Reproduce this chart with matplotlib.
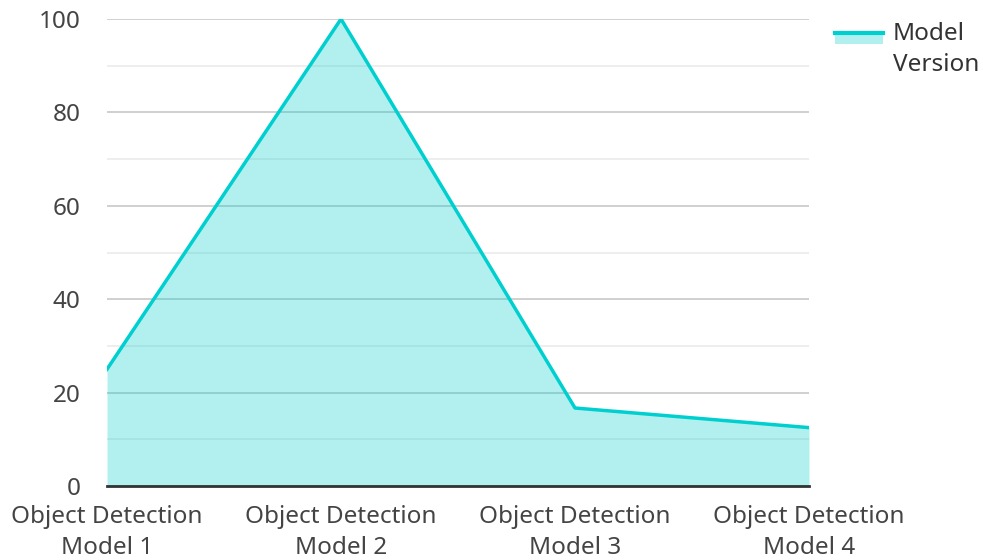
import numpy as np
import matplotlib
matplotlib.use("Agg")
import matplotlib.pyplot as plt
from matplotlib.lines import Line2D
from matplotlib.patches import Rectangle

plt.rcParams["font.family"] = ["Noto Sans", "DejaVu Sans"]

# Data
categories = ["Object Detection\nModel 1", "Object Detection\nModel 2",
              "Object Detection\nModel 3", "Object Detection\nModel 4"]
values = [25, 100, 16.7, 12.5]
series_name = "Model\nVersion"

line_color = "#00cfcf"
fs = 17.5

W, H = 983, 560
fig = plt.figure(figsize=(W / 100, H / 100), dpi=100)
ax = fig.add_axes((107 / W, 74 / H, 702 / W, 467 / H))

x = np.arange(len(categories))
ax.fill_between(x, values, 0, color=line_color, alpha=0.3, linewidth=0, zorder=2)
ax.plot(x, values, color=line_color, linewidth=2.5, zorder=3)

ax.set_xlim(0, len(categories) - 1)
ax.set_ylim(0, 100)
ax.set_yticks(np.arange(0, 101, 20))
ax.set_yticks(np.arange(10, 100, 20), minor=True)
ax.set_xticks(x)
ax.set_xticklabels(categories, linespacing=1.38)
ax.grid(axis="y", which="major", color="#c8c8c8", linewidth=1.2, zorder=1)
ax.grid(axis="y", which="minor", color="#ebebeb", linewidth=1.2, zorder=1)
ax.set_axisbelow(True)

for s in ["left", "right", "top"]:
    ax.spines[s].set_visible(False)
ax.spines["bottom"].set_color("#333333")
ax.spines["bottom"].set_linewidth(2)
ax.spines["bottom"].set_zorder(4)

ax.tick_params(axis="both", which="both", length=0, labelsize=fs, colors="#444444")
ax.tick_params(axis="y", pad=19)
ax.tick_params(axis="x", pad=14)

# legend drawn by hand so the swatch lines up with the first text line
fig.patches.append(Rectangle((835 / W, 1 - 44 / H), 48 / W, 12 / H,
                             transform=fig.transFigure, facecolor=line_color,
                             alpha=0.3, edgecolor="none"))
fig.lines.append(Line2D([835 / W, 883 / W], [1 - 33 / H, 1 - 33 / H],
                        transform=fig.transFigure, color=line_color, linewidth=3))
fig.text(893 / W, 1 - 22 / H, series_name, fontsize=fs, color="#333333",
         va="top", ha="left", linespacing=1.38)

fig.savefig("out.png", dpi=100)
